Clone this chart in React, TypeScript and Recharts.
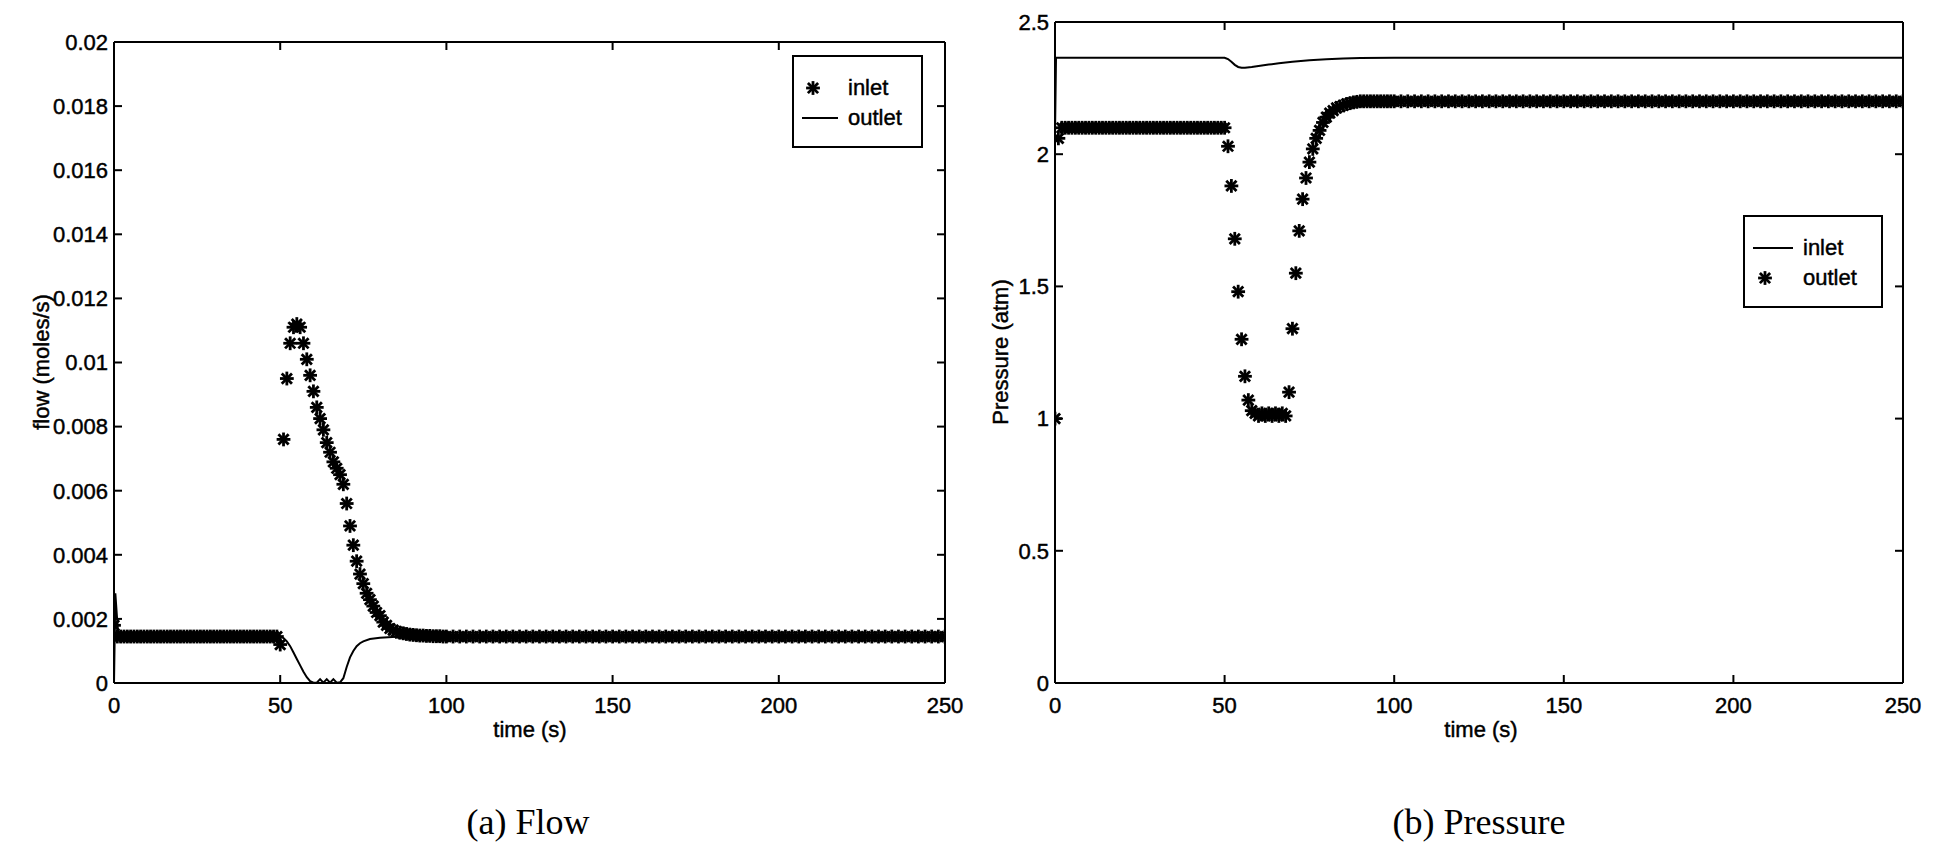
import React from 'react';
import { ComposedChart, Scatter, Line, XAxis, YAxis } from 'recharts';

// ---------- shared sample times (markers) ----------
const TIME_PRE = [0,1,2,3,4,5,6,7,8,9,10,11,12,13,14,15,16,17,18,19,20,21,22,23,24,25,26,27,28,29,30,31,32,33,34,35,36,37,38,39,40,41,42,43,44,45,46,47,48,49,50];
const TIME_MID = [51,52,53,54,55,56,57,58,59,60,61,62,63,64,65,66,67,68,69,70,71,72,73,74,75,76,77,78,79,80,81,82,83,84,85,86,87,88,89,90,91,92,93,94,95,96,97,98,99,100];
const TIME_TAIL = [102,104,106,108,110,112,114,116,118,120,122,124,126,128,130,132,134,136,138,140,142,144,146,148,150,152,154,156,158,160,162,164,166,168,170,172,174,176,178,180,182,184,186,188,190,192,194,196,198,200,202,204,206,208,210,212,214,216,218,220,222,224,226,228,230,232,234,236,238,240,242,244,246,248,250];

// ---------- (a) Flow: inlet markers ----------
const FLOW_INLET_PRE = [0.0018,
  0.00145,0.00145,0.00145,0.00145,0.00145,0.00145,0.00145,0.00145,0.00145,0.00145,
  0.00145,0.00145,0.00145,0.00145,0.00145,0.00145,0.00145,0.00145,0.00145,0.00145,
  0.00145,0.00145,0.00145,0.00145,0.00145,0.00145,0.00145,0.00145,0.00145,0.00145,
  0.00145,0.00145,0.00145,0.00145,0.00145,0.00145,0.00145,0.00145,0.00145,0.00145,
  0.00145,0.00145,0.00145,0.00145,0.00145,0.00145,0.00145,0.00145,0.00145,
  0.0012];
const FLOW_INLET_MID = [0.0076,0.0095,0.0106,0.0111,0.0112,0.0111,0.0106,0.0101,0.0096,0.0091,
  0.0086,0.00825,0.0079,0.0075,0.0072,0.0069,0.0067,0.0065,0.0062,0.0056,
  0.0049,0.0043,0.0038,0.0034,0.0031,0.0028,0.0026,0.0024,0.0022,0.0021,
  0.0019,0.0018,0.0017,0.00165,0.0016,0.00157,0.00155,0.00153,0.00151,0.0015,
  0.00149,0.00148,0.00148,0.00147,0.00147,0.00146,0.00146,0.00146,0.00145,0.00145];
const FLOW_INLET_TAIL = [0.00145,0.00145,0.00145,0.00145,0.00145,0.00145,0.00145,0.00145,0.00145,0.00145,
  0.00145,0.00145,0.00145,0.00145,0.00145,0.00145,0.00145,0.00145,0.00145,0.00145,
  0.00145,0.00145,0.00145,0.00145,0.00145,0.00145,0.00145,0.00145,0.00145,0.00145,
  0.00145,0.00145,0.00145,0.00145,0.00145,0.00145,0.00145,0.00145,0.00145,0.00145,
  0.00145,0.00145,0.00145,0.00145,0.00145,0.00145,0.00145,0.00145,0.00145,0.00145,
  0.00145,0.00145,0.00145,0.00145,0.00145,0.00145,0.00145,0.00145,0.00145,0.00145,
  0.00145,0.00145,0.00145,0.00145,0.00145,0.00145,0.00145,0.00145,0.00145,0.00145,
  0.00145,0.00145,0.00145,0.00145,0.00145];

// ---------- (a) Flow: outlet line ----------
const FLOW_OUTLET_T = [0,0.4,1.2,2,50,51,52,53,54,55,56,57,58,59,60,61,62,63,64,65,66,67,68,69,70,71,72,73,74,75,77,80,85,90,100,250];
const FLOW_OUTLET_V = [0,0.0028,0.0016,0.00145,0.00145,0.0014,0.0013,0.00115,0.00095,0.00075,0.00055,0.00035,0.00018,0.00006,0.00001,0.00001,0.00012,0.00001,0.00012,0.00001,0.00012,0.00001,0.00002,0.00015,0.0005,0.0008,0.001,0.00115,0.00124,0.0013,0.00137,0.00141,0.00144,0.00145,0.00145,0.00145];

// ---------- (b) Pressure: outlet markers ----------
const PRES_OUTLET_PRE = [1.0,2.06,
  2.1,2.1,2.1,2.1,2.1,2.1,2.1,2.1,2.1,2.1,
  2.1,2.1,2.1,2.1,2.1,2.1,2.1,2.1,2.1,2.1,
  2.1,2.1,2.1,2.1,2.1,2.1,2.1,2.1,2.1,2.1,
  2.1,2.1,2.1,2.1,2.1,2.1,2.1,2.1,2.1,2.1,
  2.1,2.1,2.1,2.1,2.1,2.1,2.1,2.1,2.1];
const PRES_OUTLET_MID = [2.03,1.88,1.68,1.48,1.3,1.16,1.07,1.03,1.02,1.01,
  1.02,1.01,1.02,1.01,1.02,1.01,1.02,1.01,1.1,1.34,
  1.55,1.71,1.83,1.91,1.97,2.02,2.06,2.09,2.12,2.14,
  2.155,2.165,2.175,2.18,2.185,2.19,2.193,2.196,2.198,2.2,
  2.2,2.2,2.2,2.2,2.2,2.2,2.2,2.2,2.2,2.2];
const PRES_OUTLET_TAIL = [2.2,2.2,2.2,2.2,2.2,2.2,2.2,2.2,2.2,2.2,
  2.2,2.2,2.2,2.2,2.2,2.2,2.2,2.2,2.2,2.2,
  2.2,2.2,2.2,2.2,2.2,2.2,2.2,2.2,2.2,2.2,
  2.2,2.2,2.2,2.2,2.2,2.2,2.2,2.2,2.2,2.2,
  2.2,2.2,2.2,2.2,2.2,2.2,2.2,2.2,2.2,2.2,
  2.2,2.2,2.2,2.2,2.2,2.2,2.2,2.2,2.2,2.2,
  2.2,2.2,2.2,2.2,2.2,2.2,2.2,2.2,2.2,2.2,
  2.2,2.2,2.2,2.2,2.2];

// ---------- (b) Pressure: inlet line ----------
const PRES_INLET_T = [0,0.3,1,50,51,52,53,54,55,56,58,60,63,66,70,75,80,85,90,100,250];
const PRES_INLET_V = [2.07,2.365,2.365,2.365,2.36,2.35,2.338,2.33,2.327,2.327,2.33,2.334,2.339,2.344,2.35,2.355,2.359,2.362,2.364,2.365,2.365];

// ---------- ticks ----------
const TIME_TICKS = [0, 50, 100, 150, 200, 250];
const FLOW_TICKS = [0, 0.002, 0.004, 0.006, 0.008, 0.01, 0.012, 0.014, 0.016, 0.018, 0.02];
const PRES_TICKS = [0, 0.5, 1, 1.5, 2, 2.5];

const zip = (ts: number[], vs: number[]) => ts.map((t, i) => ({ t, v: vs[i] }));
const MARK_T = [...TIME_PRE, ...TIME_MID, ...TIME_TAIL];
const flowInlet = zip(MARK_T, [...FLOW_INLET_PRE, ...FLOW_INLET_MID, ...FLOW_INLET_TAIL]);
const flowOutlet = zip(FLOW_OUTLET_T, FLOW_OUTLET_V);
const presOutlet = zip(MARK_T, [...PRES_OUTLET_PRE, ...PRES_OUTLET_MID, ...PRES_OUTLET_TAIL]);
const presInlet = zip(PRES_INLET_T, PRES_INLET_V);

const FONT = '"Liberation Sans", Arial, Helvetica, sans-serif';
const SERIF = '"Liberation Serif", "Times New Roman", serif';
const FS = 22;
const TICK_LEN = 8;
const axisLine = { stroke: '#000', strokeWidth: 2 };

const txt = { fontSize: FS, fontFamily: FONT, fill: '#000', stroke: '#000', strokeWidth: 0.45 } as const;

// bottom axis: label below, inward tick above the axis line
const BottomTick = (p: any) => (
  <g>
    <line x1={p.x} x2={p.x} y1={p.y - 14} y2={p.y - 14 - TICK_LEN} stroke="#000" strokeWidth={2} />
    <text x={p.x} y={p.y} dy="0.71em" textAnchor="middle" {...txt}>{String(p.payload.value)}</text>
  </g>
);
const LeftTick = (p: any) => (
  <g>
    <line x1={p.x + 6} x2={p.x + 6 + TICK_LEN} y1={p.y} y2={p.y} stroke="#000" strokeWidth={2} />
    <text x={p.x} y={p.y} dy="0.355em" textAnchor="end" {...txt}>{String(p.payload.value)}</text>
  </g>
);
const TopTick = (p: any) => (
  <line x1={p.x} x2={p.x} y1={p.y} y2={p.y + TICK_LEN} stroke="#000" strokeWidth={2} />
);
const RightTick = (p: any) => (
  <line x1={p.x} x2={p.x - TICK_LEN} y1={p.y} y2={p.y} stroke="#000" strokeWidth={2} />
);

const starPaths = (cx: number, cy: number, r: number, key?: any) => {
  const d = r * 0.75;
  return (
    <g key={key} stroke="#000" strokeWidth={2.8} strokeLinecap="square">
      <line x1={cx - r} y1={cy} x2={cx + r} y2={cy} />
      <line x1={cx} y1={cy - r} x2={cx} y2={cy + r} />
      <line x1={cx - d} y1={cy - d} x2={cx + d} y2={cy + d} />
      <line x1={cx - d} y1={cy + d} x2={cx + d} y2={cy - d} />
    </g>
  );
};

const Star = (props: any) => {
  const { cx, cy } = props;
  if (cx == null || cy == null) return null;
  return starPaths(cx, cy, 5.5);
};

const abs = (s: React.CSSProperties): React.CSSProperties => ({ position: 'absolute', ...s });
const htmlText: React.CSSProperties = { fontSize: FS, fontFamily: FONT, whiteSpace: 'nowrap', color: '#000', WebkitTextStroke: '0.45px #000' } as any;

function Legend({ left, top, width, height, rows }: any) {
  return (
    <svg style={abs({ left, top, overflow: 'visible' })} width={width} height={height}>
      <rect x={1} y={1} width={width - 2} height={height - 2} fill="#fff" stroke="#000" strokeWidth={2} />
      {rows.map((r: any, i: number) => {
        const y = 33 + i * 30;
        return (
          <g key={i}>
            {r.kind === 'star'
              ? starPaths(r.sx, y, 5.5)
              : <line x1={r.lx1} x2={r.lx2} y1={y} y2={y} stroke="#000" strokeWidth={2} />}
            <text x={r.tx} y={y + 7} {...txt}>{r.label}</text>
          </g>
        );
      })}
    </svg>
  );
}

function axes(yTicks: number[], yDomain: [number, number]) {
  return [
    <XAxis key="xb" xAxisId="b" dataKey="t" type="number" domain={[0, 250]} ticks={TIME_TICKS} interval={0}
      height={60} tickSize={0} tickMargin={14} tick={BottomTick} axisLine={axisLine} tickLine={false} allowDataOverflow />,
    <XAxis key="xt" xAxisId="t" orientation="top" dataKey="t" type="number" domain={[0, 250]} ticks={TIME_TICKS} interval={0}
      height={1} tickSize={0} tickMargin={0} tick={TopTick} axisLine={axisLine} tickLine={false} allowDataOverflow />,
    <YAxis key="yl" yAxisId="l" dataKey="v" type="number" domain={yDomain} ticks={yTicks} interval={0}
      width={60} tickSize={0} tickMargin={6} tick={LeftTick} axisLine={axisLine} tickLine={false} allowDataOverflow />,
    <YAxis key="yr" yAxisId="r" orientation="right" dataKey="v" type="number" domain={yDomain} ticks={yTicks} interval={0}
      width={1} tickSize={0} tickMargin={0} tick={RightTick} axisLine={axisLine} tickLine={false} allowDataOverflow />,
  ];
}

export default function App() {
  return (
    <div style={abs({ left: 0, top: 0, width: 1934, height: 855, background: '#fff', fontFamily: FONT, overflow: 'hidden' })}>
      {/* (a) Flow */}
      <div style={abs({ left: 0, top: 0 })}>
        <ComposedChart width={975} height={760} margin={{ top: 41, right: 29, bottom: 17, left: 54 }}>
          {axes(FLOW_TICKS, [0, 0.02])}
          <Scatter xAxisId="t" yAxisId="r" data={[{ t: 0, v: 0 }]} shape={() => null} isAnimationActive={false} />
          <Line xAxisId="b" yAxisId="l" data={flowOutlet} dataKey="v" type="linear" stroke="#000" strokeWidth={2}
            dot={false} activeDot={false} isAnimationActive={false} />
          <Scatter xAxisId="b" yAxisId="l" data={flowInlet} dataKey="v" shape={Star} isAnimationActive={false} />
        </ComposedChart>
      </div>
      <Legend left={792} top={55} width={131} height={93}
        rows={[{ kind: 'star', label: 'inlet', sx: 21, tx: 56 }, { kind: 'line', label: 'outlet', lx1: 10, lx2: 46, tx: 56 }]} />
      <div style={abs({ ...htmlText, left: 42, top: 362, transform: 'translate(-50%, -50%) rotate(-90deg)' })}>flow (moles/s)</div>
      <div style={abs({ ...htmlText, left: 530, top: 730, transform: 'translate(-50%, -50%)' })}>time (s)</div>
      <div style={abs({ left: 528, top: 822, transform: 'translate(-50%, -50%)', fontSize: 36, fontFamily: SERIF, whiteSpace: 'nowrap' })}>(a) Flow</div>

      {/* (b) Pressure */}
      <div style={abs({ left: 980, top: 0 })}>
        <ComposedChart width={954} height={760} margin={{ top: 21, right: 30, bottom: 17, left: 15 }}>
          {axes(PRES_TICKS, [0, 2.5])}
          <Scatter xAxisId="t" yAxisId="r" data={[{ t: 0, v: 0 }]} shape={() => null} isAnimationActive={false} />
          <Line xAxisId="b" yAxisId="l" data={presInlet} dataKey="v" type="linear" stroke="#000" strokeWidth={2}
            dot={false} activeDot={false} isAnimationActive={false} />
          <Scatter xAxisId="b" yAxisId="l" data={presOutlet} dataKey="v" shape={Star} isAnimationActive={false} />
        </ComposedChart>
      </div>
      <Legend left={1743} top={215} width={140} height={93}
        rows={[{ kind: 'line', label: 'inlet', lx1: 10, lx2: 50, tx: 60 }, { kind: 'star', label: 'outlet', sx: 22, tx: 60 }]} />
      <div style={abs({ ...htmlText, left: 1001, top: 352, transform: 'translate(-50%, -50%) rotate(-90deg)' })}>Pressure (atm)</div>
      <div style={abs({ ...htmlText, left: 1481, top: 730, transform: 'translate(-50%, -50%)' })}>time (s)</div>
      <div style={abs({ left: 1479, top: 822, transform: 'translate(-50%, -50%)', fontSize: 36, fontFamily: SERIF, whiteSpace: 'nowrap' })}>(b) Pressure</div>
    </div>
  );
}
